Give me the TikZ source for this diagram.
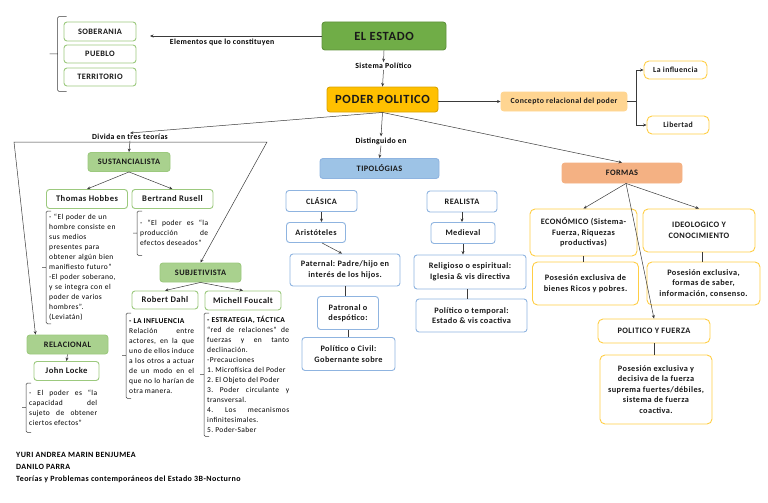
\documentclass[tikz,border=0pt]{standalone}
\usepackage{fontspec}
\setmainfont{Carlito}[LetterSpace=5]
\usetikzlibrary{arrows.meta,calc,positioning}
\hyphenpenalty=10000
\frenchspacing

\definecolor{verde}{HTML}{70AD47}
\definecolor{verdec}{HTML}{A9D18E}
\definecolor{verdeb}{HTML}{9CC97E}
\definecolor{naranja}{HTML}{FFC000}
\definecolor{naranjac}{HTML}{FFD591}
\definecolor{amarillob}{HTML}{FFCE45}
\definecolor{azul}{HTML}{9DC3E6}
\definecolor{azulb}{HTML}{8FB4E0}
\definecolor{salmon}{HTML}{F4B183}
\definecolor{linea}{HTML}{3A3A3A}

\tikzset{
  caja/.style={draw, rounded corners=3pt, line width=0.9pt, align=center, inner sep=1pt,
    text=black!90, font=\fontsize{8.3}{10.5}\selectfont\bfseries},
  verdebox/.style={caja, draw=verdeb, fill=white},
  verdefill/.style={caja, draw=verdeb, fill=verdec},
  amabox/.style={caja, draw=amarillob, fill=white, rounded corners=5pt},
  azulbox/.style={caja, draw=azulb, fill=white},
  nota/.style={anchor=north west, inner sep=3pt, text width=#1, align=justify,
    font=\fontsize{7.5}{10}\selectfont},
  rotulo/.style={inner sep=1pt, font=\fontsize{7.8}{9}\selectfont\bfseries},
  nombre/.style={font=\fontsize{8.6}{10}\selectfont\bfseries},
  titulo/.style={font=\fontsize{12.5}{14}\selectfont\bfseries},
  corchete/.style={draw=linea, line width=0.5pt, rounded corners=1.5pt},
  flecha/.style={draw=linea, line width=0.5pt, ->},
  enlace/.style={draw=linea, line width=0.5pt},
}

\begin{document}
\begin{tikzpicture}[x=1pt,y=-1pt,>={Stealth[length=3.5pt,width=3pt]}]
  \useasboundingbox (0,0) rectangle (768,503);
  % El Estado and what it is made of
  \node[caja, titulo, draw=verde!85!black, fill=verde, minimum width=124pt, minimum height=28pt] (estado) at (384,36) {EL ESTADO};
  \node[verdebox, minimum width=72pt, minimum height=19pt] (soberania) at (100,31.5) {SOBERANIA};
  \node[verdebox, minimum width=72pt, minimum height=18pt] (pueblo) at (100,54) {PUEBLO};
  \node[verdebox, minimum width=72pt, minimum height=18pt] (territorio) at (100,77) {TERRITORIO};
  \coordinate (elem) at (150,36);
  \draw[flecha] (estado.west) -- node[rotulo, below=2pt, pos=0.58] (elementos) {Elementos que lo constituyen} (elem);
  \draw[corchete] ($(soberania.north west)+(3,-5)$) -- ($(soberania.north west)+(-6,-5)$)
    -- ($(territorio.south west)+(-6,5)$) -- ($(territorio.south west)+(3,5)$)
    ($(pueblo.west)+(-6,0)$) -- ++(-8,0);

  % Poder politico and the relational concept
  \node[rotulo] (sistema) at (383.5,66) {Sistema Político};
  \node[caja, titulo, draw=naranja!85!black, fill=naranja, minimum width=111pt, minimum height=25pt] (poder) at (382.5,99.5) {PODER POLITICO};
  \draw[flecha] (estado.south) -- (sistema.north);
  \draw[flecha] (sistema.south) -- (poder.north);
  \node[caja, rotulo, draw=naranjac, fill=naranjac, minimum width=126pt, minimum height=19pt] (concepto) at (564,101.5) {Concepto relacional del poder};
  \node[amabox, rotulo, minimum width=63pt, minimum height=18pt] (influencia) at (675.5,70) {La influencia};
  \node[amabox, rotulo, minimum width=62pt, minimum height=18pt] (libertad) at (678,125) {Libertad};
  \draw[flecha] (poder.east |- concepto.west) -- (concepto.west);
  \draw[draw=linea, line width=1.3pt] (concepto.east) -- ++(9,0) coordinate (cj);
  \draw[flecha] (cj) |- (influencia.west);
  \draw[flecha] (cj) |- (libertad.west);

  % Three theories
  \node[rotulo] (divida) at (130,137) {Divida en tres teorías};
  \draw[flecha] (poder.south) -- (divida.north);
  \coordinate (ti) at (14,142);
  \coordinate (td) at (267,142);
  \node[verdefill, minimum width=82pt, minimum height=19pt] (sust) at (129,162) {SUSTANCIALISTA};
  \draw[flecha] (divida.south) -- (sust.north);
  \node[verdebox, nombre, minimum width=81pt, minimum height=19pt] (hobbes) at (87,199) {Thomas Hobbes};
  \node[verdebox, nombre, minimum width=81pt, minimum height=19pt] (bertrand) at (172.5,199) {Bertrand Rusell};
  \draw[flecha] (sust.south) -- (hobbes.north);
  \draw[flecha] (sust.south) -- (bertrand.north);
  \node[nota=72pt, align=left, minimum height=111pt] (hobtx) at (46,211) {- “El poder de un\\hombre consiste en\\sus medios\\presentes para\\obtener algún bien\\manifiesto futuro”\\-El poder soberano,\\y se integra con el\\poder de varios\\hombres”.\\(Leviatán)};
  \node[nota=68pt, minimum height=44pt] (bertx) at (137,211) {- “El poder es “la\linebreak producción de\linebreak efectos deseados”};
  \node[verdefill, minimum width=81pt, minimum height=19pt] (subj) at (200.5,272.5) {SUBJETIVISTA};
  \node[verdebox, nombre, minimum width=66pt, minimum height=18pt] (dahl) at (165,300) {Robert Dahl};
  \node[verdebox, nombre, minimum width=76pt, minimum height=19pt] (foucault) at (243,300.5) {Michell Foucalt};
  \draw[flecha] (subj.south) -- (dahl.north);
  \draw[flecha] (subj.south) -- (foucault.north);
  \node[nota=65pt, minimum height=85pt] (dahltx) at (126,313) {\textbf{- LA INFLUENCIA}\newline Relación entre\linebreak actores, en la que\linebreak uno de ellos induce\linebreak a los otros a actuar\linebreak de un modo en el\linebreak que no lo harían de\linebreak otra manera.};
  \node[nota=82pt, minimum height=123pt] (foutx) at (204,313) {\textbf{- ESTRATEGIA, TÁCTICA}\newline “red de relaciones” de\linebreak fuerzas y en tanto\linebreak declinación.\newline -Precauciones\newline 1. Microfísica del Poder\newline 2. El Objeto del Poder\newline 3. Poder circulante y\linebreak transversal.\newline 4. Los mecanismos\linebreak infinitesimales.\newline 5. Poder-Saber};
  \node[verdefill, minimum width=81pt, minimum height=19pt] (relac) at (67.5,344.5) {RELACIONAL};
  \node[verdebox, nombre, minimum width=65pt, minimum height=19pt] (locke) at (66.5,371) {John Locke};
  \draw[flecha] (relac.south) -- (locke.north);
  \node[nota=68pt, minimum height=49pt] (locketx) at (26,383) {- El poder es “la\linebreak capacidad del\linebreak sujeto de obtener\linebreak ciertos efectos”};
  \draw[enlace, <->] ([xshift=-32pt]relac.north) -- (ti) -- (td) -- (subj.north);
  % brackets in front of the notes
  \draw[corchete] ([xshift=5pt]hobtx.north west) -- (hobtx.north west) -- (hobtx.south west) -- ([xshift=5pt]hobtx.south west) (hobtx.west) -- ++(-4,0);
  \draw[corchete] ([xshift=5pt]bertx.north west) -- (bertx.north west) -- (bertx.south west) -- ([xshift=5pt]bertx.south west) (bertx.west) -- ++(-4,0);
  \draw[corchete] ([xshift=5pt]dahltx.north west) -- (dahltx.north west) -- (dahltx.south west) -- ([xshift=5pt]dahltx.south west) (dahltx.west) -- ++(-4,0);
  \draw[corchete] ([xshift=5pt]foutx.north west) -- (foutx.north west) -- (foutx.south west) -- ([xshift=5pt]foutx.south west) (foutx.west) -- ++(-4,0);
  \draw[corchete] ([xshift=5pt]locketx.north west) -- (locketx.north west) -- (locketx.south west) -- ([xshift=5pt]locketx.south west) (locketx.west) -- ++(-4,0);

  % Tipologias
  \node[rotulo] (distinguido) at (381,141) {Distinguido en};
  \draw[flecha] (poder.south) -- (distinguido.north);
  \node[caja, draw=azulb, fill=azul, minimum width=119pt, minimum height=20pt] (tipologias) at (379.5,168.5) {TIPOLÓGIAS};
  \draw[flecha] (distinguido.south) -- (tipologias.north);
  \node[azulbox, minimum width=71pt, minimum height=21pt] (clasica) at (321.5,201) {CLÁSICA};
  \node[azulbox, minimum width=59pt, minimum height=20pt] (aristoteles) at (316,232.5) {Aristóteles};
  \node[azulbox, minimum width=110pt, minimum height=32pt] (paternal) at (345,270) {Paternal: Padre/hijo en\\interés de los hijos.};
  \node[azulbox, minimum width=61pt, minimum height=33pt] (patronal) at (348,313) {Patronal o\\despótico:};
  \node[azulbox, minimum width=93pt, minimum height=33pt] (civil) at (348.5,354) {Político o Civil:\\Gobernante sobre};
  \draw[flecha] (clasica.south) -- (clasica.south |- aristoteles.north);
  \draw[flecha] ([xshift=6pt]aristoteles.south) -- ([xshift=-3pt]paternal.north);
  \draw[enlace] (paternal.south) -- (paternal.south |- patronal.north);
  \draw[enlace] (patronal.south) -- (patronal.south |- civil.north);
  \node[azulbox, minimum width=70pt, minimum height=21pt] (realista) at (462,201.5) {REALISTA};
  \node[azulbox, minimum width=64pt, minimum height=21pt] (medieval) at (463,233) {Medieval};
  \node[azulbox, minimum width=112pt, minimum height=34pt] (religioso) at (470,272) {Religioso o espiritual:\\Iglesia \& vis directiva};
  \node[azulbox, minimum width=111pt, minimum height=33pt] (temporal) at (471.5,315.5) {Político o temporal:\\Estado \& vis coactiva};
  \draw[flecha] (realista.south) -- (realista.south |- medieval.north);
  \draw[flecha] (medieval.south) -- (medieval.south |- religioso.north);
  \draw[draw=linea, line width=0.9pt] ([xshift=-3pt]religioso.south) -- ([xshift=-3pt]religioso.south |- temporal.north);

  % Formas
  \node[caja, draw=salmon, fill=salmon, minimum width=120pt, minimum height=20pt] (formas) at (622,173) {FORMAS};
  \draw[flecha] (poder.south) -- (formas.north);
  \node[amabox, minimum width=107pt, minimum height=47pt] (econ) at (583.5,232.5) {ECONÓMICO (Sistema-\\Fuerza, Riquezas\\productivas)};
  \node[amabox, minimum width=106pt, minimum height=43pt] (posecon) at (585.5,283.5) {Posesión exclusiva de\\bienes Ricos y pobres.};
  \node[amabox, minimum width=112pt, minimum height=43pt] (ideo) at (699,230.5) {IDEOLOGICO Y\\CONOCIMIENTO};
  \node[amabox, minimum width=113pt, minimum height=43pt] (poside) at (703.5,283.5) {Posesión exclusiva,\\formas de saber,\\información, consenso.};
  \node[amabox, minimum width=112pt, minimum height=24pt] (polfuerza) at (654,331) {POLITICO Y FUERZA};
  \node[amabox, minimum width=112pt, minimum height=69pt] (posfuerza) at (656,389.5) {Posesión exclusiva y\\decisiva de la fuerza\\suprema fuertes/débiles,\\sistema de fuerza\\coactiva.};
  \draw[flecha] ([xshift=4pt]formas.south) -- (econ.north);
  \draw[flecha] ([xshift=4pt]formas.south) -- (ideo.north);
  \draw[flecha] ([xshift=4pt]formas.south) -- (polfuerza.north);
  \draw[enlace] (econ.south) -- (econ.south |- posecon.north);
  \draw[enlace] ([xshift=3pt]ideo.south) -- ([xshift=3pt]ideo.south |- poside.north);
  \draw[enlace] (polfuerza.south) -- (polfuerza.south |- posfuerza.north);

  % Authors
  \node[anchor=north west, align=left, inner sep=1pt, font=\fontsize{8}{12}\selectfont\bfseries] (autores) at (15,451)
    {YURI ANDREA MARIN BENJUMEA\\DANILO PARRA\\Teorías y Problemas contemporáneos del Estado 3B-Nocturno};
\end{tikzpicture}
\end{document}
